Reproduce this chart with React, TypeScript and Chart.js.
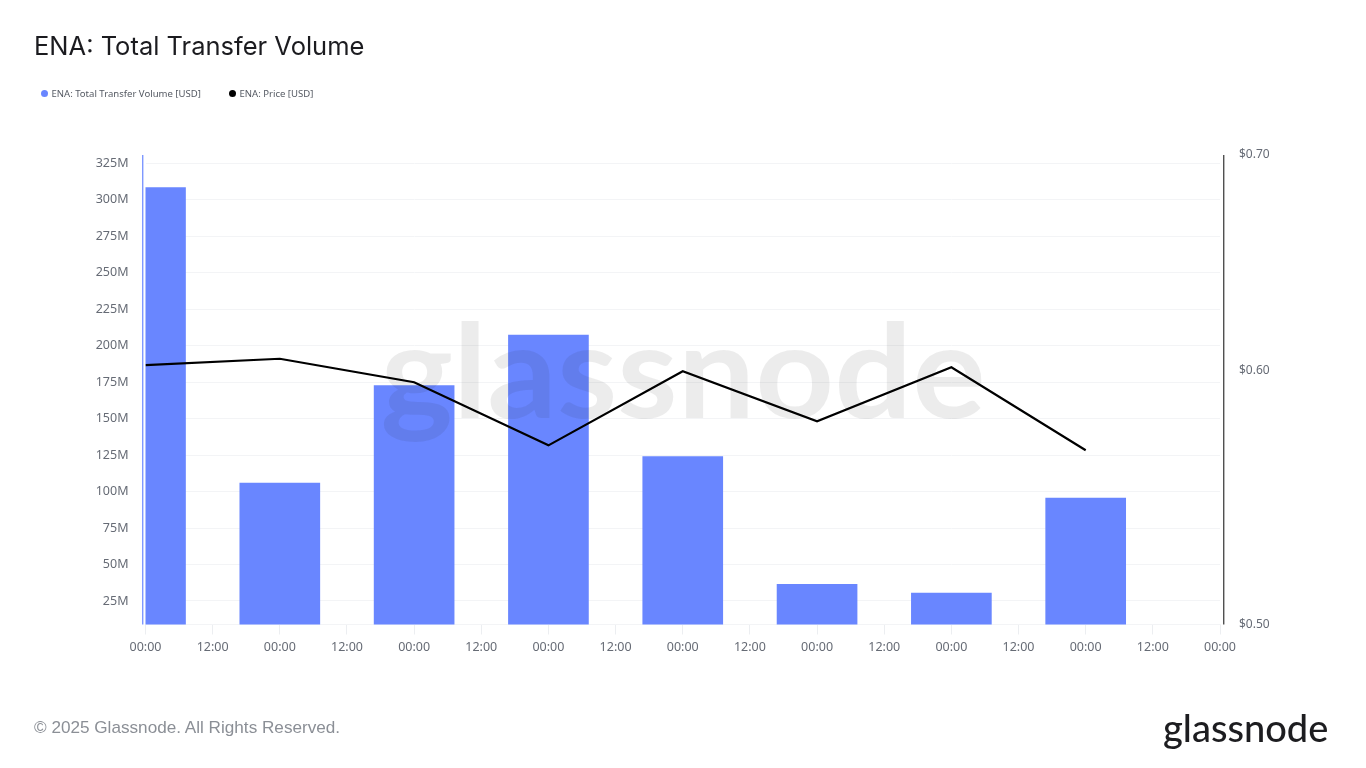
import React, { useRef, useEffect } from "react";
import { Chart, registerables } from "chart.js";

Chart.register(...registerables);

const hours = [0, 24, 48, 72, 96, 120, 144, 168];
const volume = [308.2, 105.8, 172.6, 207.2, 124, 36.5, 30.5, 95.5].map((v) => v * 1e6);
const price = [0.6021, 0.6049, 0.5948, 0.5685, 0.5995, 0.5784, 0.6012, 0.5665];
const volumeTicks = [25, 50, 75, 100, 125, 150, 175, 200, 225, 250, 275, 300, 325].map((v) => v * 1e6);
const priceTicks = [0.5, 0.6, 0.7];

const BLUE = "#6986ff";
const TICK = "#666b75";
const GRID = "#f3f4f6";
const TICK_FONT = { family: "'Noto Sans'", size: 12.5 };

// watermark sits between the bars and the price line, axis rules sit just outside the plot
const decorations = {
  id: "decorations",
  afterDatasetDraw(chart: any, args: any) {
    if (args.index !== 1) return;
    const ctx = chart.ctx;
    ctx.save();
    ctx.font = "700 130px Lato";
    ctx.fillStyle = "rgba(30,30,30,0.085)";
    ctx.textAlign = "center";
    const w = ctx.measureText("glassnode").width;
    ctx.translate(683, 418);
    ctx.scale(605 / w, 1);
    ctx.fillText("glassnode", 0, 0);
    ctx.restore();
  },
  afterDraw(chart: any) {
    const { ctx, chartArea } = chart;
    ctx.save();
    ctx.lineWidth = 1.2;
    ctx.strokeStyle = BLUE;
    ctx.beginPath();
    ctx.moveTo(142.75, chartArea.top);
    ctx.lineTo(142.75, chartArea.bottom);
    ctx.stroke();
    ctx.strokeStyle = "#333";
    ctx.beginPath();
    ctx.moveTo(1223.75, chartArea.top);
    ctx.lineTo(1223.75, chartArea.bottom);
    ctx.stroke();
    ctx.restore();
  },
};

const App: React.FC = () => {
  const chartRef = useRef<HTMLCanvasElement | null>(null);

  useEffect(() => {
    document.body.style.margin = "0";
    if (!chartRef.current) return;
    const chart = new Chart(chartRef.current, {
      data: {
        datasets: [
          {
            type: "line",
            label: "ENA: Price [USD]",
            data: hours.map((h, i) => ({ x: h, y: price[i] })),
            yAxisID: "price",
            borderColor: "#000",
            borderWidth: 2.2,
            pointRadius: 0,
            tension: 0,
            order: 1,
          },
          {
            type: "bar",
            label: "ENA: Total Transfer Volume [USD]",
            data: hours.map((h, i) => ({ x: h, y: volume[i] })),
            yAxisID: "volume",
            backgroundColor: BLUE,
            barThickness: 80,
            order: 2,
          },
        ],
      } as any,
      options: {
        responsive: false,
        animation: false,
        devicePixelRatio: 1,
        layout: { padding: { top: 155, left: 0, right: 0, bottom: 0 } },
        plugins: { legend: { display: false }, title: { display: false }, tooltip: { enabled: false } },
        scales: {
          x: {
            type: "linear",
            offset: false,
            min: 0,
            max: 192,
            afterFit: (s: any) => {
              s.height = 143.5;
            },
            afterBuildTicks: (s: any) => {
              const t = [];
              for (let h = 0; h <= 192; h += 12) t.push({ value: h });
              s.ticks = t;
            },
            grid: { offset: false, drawOnChartArea: false, color: "#eceef1", tickLength: 10 },
            border: { color: GRID },
            ticks: {
              autoSkip: false,
              maxRotation: 0,
              color: TICK,
              font: TICK_FONT,
              padding: 5,
              callback: (v: any) => (Number(v) % 24 === 0 ? "00:00" : "12:00"),
            },
          },
          volume: {
            type: "linear",
            position: "left",
            min: 8.9e6,
            max: 330.5e6,
            afterFit: (s: any) => {
              s.width = 145.5;
            },
            afterBuildTicks: (s: any) => {
              s.ticks = volumeTicks.map((value) => ({ value }));
            },
            grid: { color: GRID, drawTicks: false },
            border: { display: false },
            ticks: {
              color: TICK,
              font: TICK_FONT,
              padding: 17,
              callback: (v: any) => `${Number(v) / 1e6}M`,
            },
          },
          price: {
            type: "logarithmic",
            position: "right",
            min: 0.5,
            max: 0.7,
            afterFit: (s: any) => {
              s.width = 146;
            },
            afterBuildTicks: (s: any) => {
              s.ticks = priceTicks.map((value) => ({ value }));
            },
            grid: { display: false },
            border: { display: false },
            ticks: {
              color: TICK,
              font: { family: "'Noto Sans'", size: 12 },
              padding: 11,
              callback: (v: any) => `$${Number(v).toFixed(2)}`,
            },
          },
        },
      } as any,
      plugins: [decorations],
    });
    return () => chart.destroy();
  }, []);

  const legendItem = (color: string, text: string, left: number) => (
    <div style={{ position: "absolute", left, top: 85.5, display: "flex", alignItems: "center", height: 15 }}>
      <span style={{ width: 7, height: 7, borderRadius: "50%", background: color, marginRight: 3.5 }} />
      <span style={{ font: "9.55px 'Noto Sans'", color: "#555a63" }}>{text}</span>
    </div>
  );

  return (
    <div style={{ position: "relative", width: 1366, height: 768, background: "#fff", overflow: "hidden" }}>
      <canvas ref={chartRef} width={1366} height={768} style={{ position: "absolute", left: 0, top: 0 }} />
      <div style={{ position: "absolute", left: 34, top: 30, font: "25.5px Inter", color: "#1b1b1f", whiteSpace: "nowrap" }}>
        ENA: Total Transfer Volume
      </div>
      {legendItem(BLUE, "ENA: Total Transfer Volume [USD]", 41)}
      {legendItem("#000", "ENA: Price [USD]", 229)}
      <div style={{ position: "absolute", left: 34, top: 717, font: "17.15px 'Liberation Sans'", color: "#8b8f96", whiteSpace: "nowrap" }}>
        © 2025 Glassnode. All Rights Reserved.
      </div>
      <div style={{ position: "absolute", left: 1163, top: 704, font: "500 38px Lato", color: "#1d1d20", whiteSpace: "nowrap" }}>
        glassnode
      </div>
    </div>
  );
};

export default App;
